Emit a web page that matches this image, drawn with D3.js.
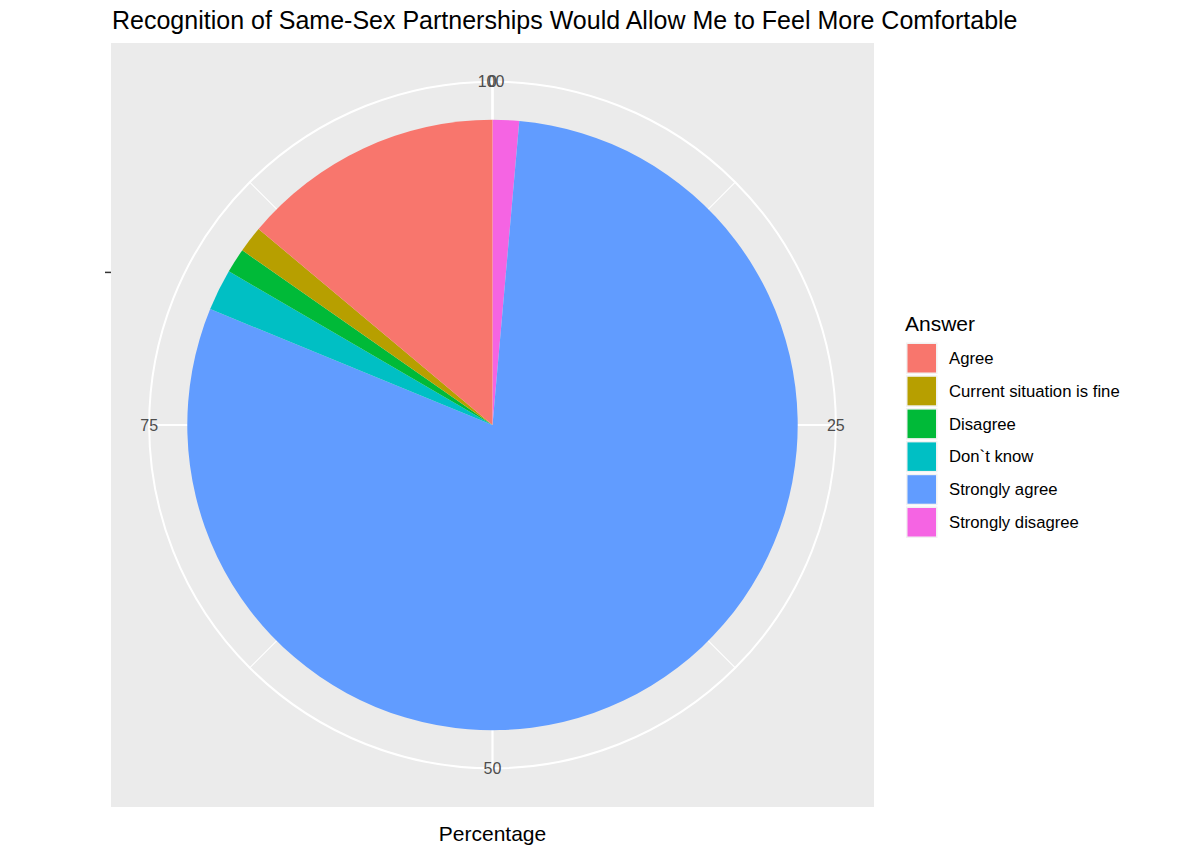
<!DOCTYPE html>
<html><head><meta charset="utf-8">
<script src="https://cdn.jsdelivr.net/npm/d3@7"></script>
<style>body{margin:0;background:#fff}svg{display:block}text{font-family:"Liberation Sans",Arial,sans-serif}</style>
</head><body>
<script>
const categories = ["Agree","Current situation is fine","Disagree","Don`t know","Strongly agree","Strongly disagree"];
const values = [13.9, 1.4, 1.3, 2.2, 79.8, 1.4];
const colors = ["#F8766D","#B79F00","#00BA38","#00BFC4","#619CFF","#F564E3"];
const thetaTicks = [0, 25, 50, 75, 100];
const thetaMinor = [12.5, 37.5, 62.5, 87.5];
const title = "Recognition of Same-Sex Partnerships Would Allow Me to Feel More Comfortable";
const xLabel = "Percentage";
const legendTitle = "Answer";

const W = 1200, H = 851;
const svg = d3.select("body").append("svg").attr("width", W).attr("height", H);

const panel = {x0: 111, y0: 43, x1: 874, y1: 807};
const size = panel.x1 - panel.x0;
const cx = (panel.x0 + panel.x1) / 2, cy = (panel.y0 + panel.y1) / 2;

svg.append("rect").attr("x", panel.x0).attr("y", panel.y0).attr("width", size).attr("height", panel.y1 - panel.y0).attr("fill", "#EBEBEB");

const theta = d3.scaleLinear().domain([0, 100]).range([0, 2 * Math.PI]);
const rScale = d3.scaleLinear().domain([0, 1]).range([0, 0.4 * size]);
const rOuter = 0.45 * size;

const g = svg.append("g").attr("transform", `translate(${cx},${cy})`);

// grid
g.append("circle").attr("r", rScale(0.5)).attr("fill", "none").attr("stroke", "#fff").attr("stroke-width", 2);
g.append("circle").attr("r", rOuter).attr("fill", "none").attr("stroke", "#fff").attr("stroke-width", 2);
g.selectAll(".minor").data(thetaMinor).join("line")
  .attr("x1", 0).attr("y1", 0)
  .attr("x2", d => rOuter * Math.sin(theta(d))).attr("y2", d => -rOuter * Math.cos(theta(d)))
  .attr("stroke", "#fff").attr("stroke-width", 1.1);
g.selectAll(".major").data(thetaTicks).join("line")
  .attr("x1", 0).attr("y1", 0)
  .attr("x2", d => rOuter * Math.sin(theta(d))).attr("y2", d => -rOuter * Math.cos(theta(d)))
  .attr("stroke", "#fff").attr("stroke-width", 2.2);

// stacked slices: last factor level at bottom (starting at 0)
let acc = 0;
const slices = [];
for (let i = categories.length - 1; i >= 0; i--) {
  slices.push({cat: categories[i], start: acc, end: acc + values[i], color: colors[i]});
  acc += values[i];
}
const arc = d3.arc().innerRadius(0).outerRadius(rScale(1));
g.selectAll(".slice").data(slices).join("path")
  .attr("d", d => arc({startAngle: theta(d.start), endAngle: theta(d.end)}))
  .attr("fill", d => d.color);

// theta labels
g.selectAll(".tl").data(thetaTicks).join("text")
  .attr("x", d => rOuter * Math.sin(theta(d)) - (d === 100 ? 1.5 : 0))
  .attr("y", d => -rOuter * Math.cos(theta(d)))
  .attr("text-anchor", "middle").attr("dominant-baseline", "central")
  .attr("font-size", 16).attr("fill", "#4D4D4D")
  .text(d => d);

// left axis tick (discrete r position)
svg.append("line").attr("x1", panel.x0 - 6).attr("x2", panel.x0)
  .attr("y1", cy - rScale(0.5)).attr("y2", cy - rScale(0.5))
  .attr("stroke", "#333").attr("stroke-width", 1.5);

// title & axis title
svg.append("text").attr("x", 112).attr("y", 29).attr("font-size", 25).attr("fill", "#000").text(title);
svg.append("text").attr("x", cx).attr("y", 841).attr("text-anchor", "middle").attr("font-size", 21).attr("fill", "#000").text(xLabel);

// legend
const lg = svg.append("g");
lg.append("text").attr("x", 905).attr("y", 331).attr("font-size", 21).text(legendTitle);
const keyY0 = 342.5, pitch = 32.8;
const items = lg.selectAll(".key").data(categories).join("g")
  .attr("transform", (d, i) => `translate(906,${keyY0 + i * pitch})`);
items.append("rect").attr("width", 31.5).attr("height", 31.5).attr("fill", "#F2F2F2");
items.append("rect").attr("x", 1.5).attr("y", 1.5).attr("width", 28.5).attr("height", 28.5).attr("fill", (d, i) => colors[i]);
items.append("text").attr("x", 43).attr("y", 16).attr("dominant-baseline", "central").attr("font-size", 16.7).text(d => d);
</script>
</body></html>
